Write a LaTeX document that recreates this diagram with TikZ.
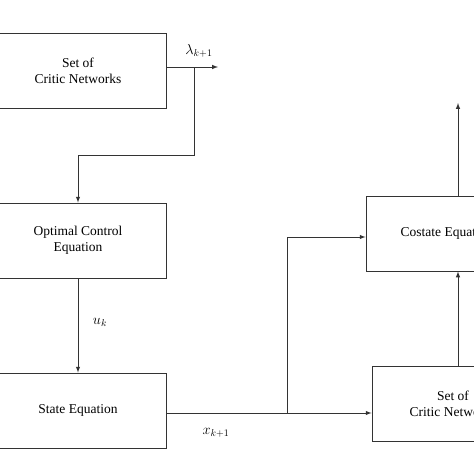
\documentclass[tikz,border=0pt]{standalone}
\usepackage{fontspec}
\setmainfont{Liberation Serif}
\usepackage{tikz}
\usetikzlibrary{shapes.geometric, arrows}
\tikzstyle{block} = [rectangle, minimum width=176pt, minimum height=75pt, text centered, align=center, draw=black!80, line width=0.9pt, font=\fontsize{13.5}{16}\selectfont]
\tikzstyle{rblock} = [block, minimum width=162pt]
\tikzstyle{arrow} = [line width=1pt, draw=black!80, ->, >=latex]
\tikzstyle{line} = [line width=1pt, draw=black!80]
\tikzstyle{lbl} = [inner sep=0pt, font=\fontsize{14}{16}\selectfont]

\begin{document}
\begin{tikzpicture}[x=1pt, y=-1pt, node distance=170pt]
\useasboundingbox (0,0) rectangle (474,474);
\clip (0,0) rectangle (474,474);

% left column
\node (critic1) [block] at (78,70.5) {Set of\\Critic Networks};
\node (optctrl) [block, below of=critic1] {Optimal Control\\Equation};
\node (stateeq) [block, below of=optctrl] {State Equation};

% right column
\node (critic2) [rblock] at (453,403.5) {Set of\\Critic Networks};
\node (costate) [rblock] at (447,233.5) {Costate Equation};

\coordinate (lamtip) at (218,67);
\coordinate (branch) at (194,67);
\coordinate (split) at (287,413);
\coordinate (upx) at (458,0);
\coordinate (costout) at (458,103);

\draw [arrow] (critic1.east |- lamtip) -- (lamtip);
\node (lamlbl) [lbl] at (199,51) {$\lambda_{k+1}$};
\draw [arrow] (branch) -- ++(0,88) -| (optctrl.north);

\draw [arrow] (optctrl) -- (stateeq);
\node (ulbl) [lbl] at (100,322) {$u_k$};

\draw [line] (stateeq.east |- split) -- (split);
\draw [arrow] (split) -- (critic2.west |- split);
\draw [arrow] (split) |- ([yshift=-3.5pt]costate.west);
\node (xlbl) [lbl] at (216,433) {$x_{k+1}$};

\draw [arrow] (critic2.north -| upx) -- (costate.south -| upx);
\draw [arrow] (costate.north -| upx) -- (costout);

\end{tikzpicture}
\end{document}
